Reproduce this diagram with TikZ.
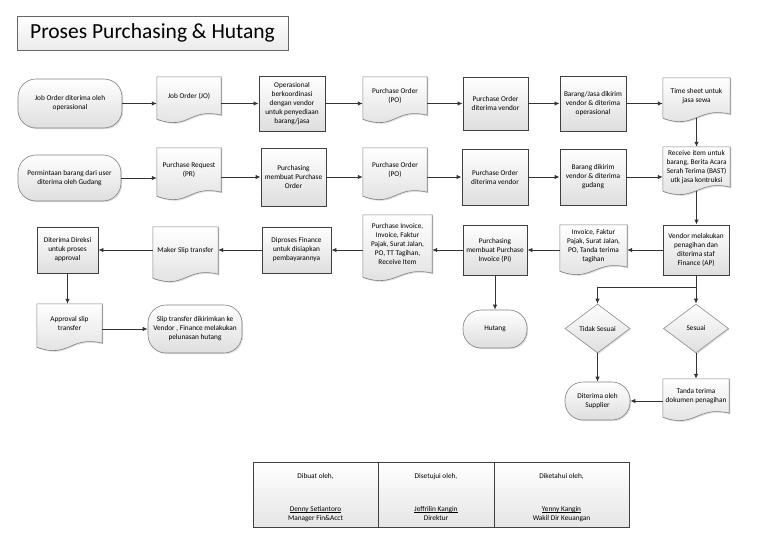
\documentclass[tikz,border=0pt]{standalone}
\usepackage{fontspec}
\setmainfont{Carlito}
\usetikzlibrary{arrows.meta,backgrounds,shadows,shapes.geometric}
\newcommand\garis[1]{\setbox0=\hbox{#1}\rlap{\rule[-1.6pt]{\wd0}{0.45pt}}\box0}

\begin{document}
\begin{tikzpicture}[x=1pt,y=-1pt,>={Latex[length=5pt,width=4.5pt]},
  txt/.style={align=center,inner sep=1pt,font=\fontsize{7.3}{9}\selectfont},
  shd/.style={top color=white,bottom color=black!13,drop shadow={shadow xshift=1.2pt,shadow yshift=-1.2pt,opacity=.25}},
  box/.style={txt,shd,draw=black!75,line width=.9pt},
  term/.style={txt,shd,draw=black!50,line width=.6pt,rounded corners=18pt},
  doc/.style={txt},
  docline/.style={shd,draw=black!50,line width=.6pt},
  dec/.style={txt,shd,diamond,draw=black!45,line width=.6pt,inner sep=.5pt,minimum width=65pt,minimum height=49pt},
  cell/.style={txt,draw=black!75,line width=.8pt,top color=white,bottom color=black!10,minimum height=65pt},
  link/.style={->,draw=black!80,line width=.9pt}]
\useasboundingbox (0,0) rectangle (768,543);

\node[draw=black!60,line width=.7pt,top color=white,bottom color=black!8,minimum width=271pt,minimum height=34pt,
  font=\fontsize{21.5}{26}\selectfont,drop shadow={shadow xshift=1.2pt,shadow yshift=-1.2pt,opacity=.25}] (ttl) at (152.5,33) {Proses Purchasing \& Hutang};

% baris 1
\node[term,minimum width=104pt,minimum height=49pt] (t1) at (70,103.5) {Job Order diterima oleh\\operasional};
\node[doc,minimum width=64pt,minimum height=38pt] (jo) at (189,96) {Job Order (JO)};
\node[box,minimum width=66pt,minimum height=55pt] (opr) at (292,103.5) {Operasional\\berkoordinasi\\dengan vendor\\untuk penyediaan\\barang/jasa};
\node[doc,minimum width=64pt,minimum height=38pt] (po1) at (395,96) {Purchase Order\\(PO)};
\node[box,minimum width=65pt,minimum height=53pt] (pov1) at (495.5,103.5) {Purchase Order\\diterima vendor};
\node[box,minimum width=66pt,minimum height=55pt] (brg1) at (593,103.5) {Barang/Jasa dikirim\\vendor \& diterima\\operasional};
\node[doc,minimum width=67pt,minimum height=36pt] (ts) at (696.5,96) {Time sheet untuk\\jasa sewa};

% baris 2
\node[term,minimum width=103pt,minimum height=46pt] (t2) at (69.5,178) {Permintaan barang dari user\\diterima oleh Gudang};
\node[doc,minimum width=64pt,minimum height=44pt] (pr) at (189,170) {Purchase Request\\(PR)};
\node[box,minimum width=65pt,minimum height=58pt] (pb) at (293.5,177) {Purchasing\\membuat Purchase\\Order};
\node[doc,minimum width=64pt,minimum height=44pt] (po2) at (395,170) {Purchase Order\\(PO)};
\node[box,minimum width=66pt,minimum height=56pt] (pov2) at (495,177) {Purchase Order\\diterima vendor};
\node[box,minimum width=66pt,minimum height=56pt] (brg2) at (593,177) {Barang dikirim\\vendor \& diterima\\gudang};
\node[doc,minimum width=67pt,minimum height=40pt] (rcv) at (696.5,167) {Receive item untuk\\barang, Berita Acara\\Serah Terima (BAST)\\utk jasa kontruksi};

% baris 3
\node[box,minimum width=66pt,minimum height=50pt] (ven) at (696,250) {Vendor melakukan\\penagihan dan\\diterima staf\\Finance (AP)};
\node[doc,minimum width=67pt,minimum height=42pt] (inv) at (593.5,246) {Invoice, Faktur\\Pajak, Surat Jalan,\\PO, Tanda terima\\tagihan};
\node[box,minimum width=64pt,minimum height=50pt] (pib) at (495,250) {Purchasing\\membuat Purchase\\Invoice (PI)};
\node[doc,minimum width=69pt,minimum height=58pt] (pid) at (397.5,244) {Purchase Invoice,\\Invoice, Faktur\\Pajak, Surat Jalan,\\PO, TT Tagihan,\\Receive Item};
\node[box,minimum width=69pt,minimum height=46pt] (dp) at (296.5,250) {Diproses Finance\\untuk disiapkan\\pembayarannya};
\node[doc,minimum width=65pt,minimum height=47pt] (mk) at (185.5,250.5) {Maker Slip transfer};
\node[box,minimum width=61pt,minimum height=46pt] (dir) at (67.5,250) {Diterima Direksi\\untuk proses\\approval};

% bawah
\node[doc,minimum width=65pt,minimum height=39pt] (app) at (69.5,323.5) {Approval slip\\transfer};
\node[term,minimum width=94pt,minimum height=48pt] (slip) at (195,329) {Slip transfer dikirimkan ke\\Vendor , Finance melakukan\\pelunasan hutang};
\node[term,minimum width=64pt,minimum height=38pt] (hut) at (495,329) {Hutang};
\node[dec] (tdk) at (597.5,328.5) {Tidak Sesuai};
\node[dec] (ss) at (696,328.5) {Sesuai};
\node[term,minimum width=65pt,minimum height=38pt] (sup) at (597.5,401) {Diterima oleh\\Supplier};
\node[doc,minimum width=66pt,minimum height=34pt] (tt) at (696,396) {Tanda terima\\dokumen penagihan};
\coordinate (sp) at (696,287);

\begin{scope}[on background layer]
\foreach \d in {jo,po1,ts,pr,po2,rcv,inv,pid,mk,app,tt}
  \draw[docline] (\d.north west) -- (\d.north east) -- (\d.south east)
    .. controls +(-32,-8) and +(32,12) .. ([yshift=-4pt]\d.south west) -- cycle;
\end{scope}

\draw[link] (t1) -- (t1 -| jo.west);
\draw[link] (jo.east |- opr) -- (opr);
\draw[link] (opr) -- (opr -| po1.west);
\draw[link] (po1.east |- pov1) -- (pov1);
\draw[link] (pov1) -- (brg1);
\draw[link] (brg1) -- (brg1 -| ts.west);
\draw[link] ([yshift=-3.5pt]ts.south) -- (ts.south |- rcv.north);

\draw[link] (t2) -- (t2 -| pr.west);
\draw[link] (pr.east |- pb) -- (pb);
\draw[link] (pb) -- (pb -| po2.west);
\draw[link] (po2.east |- pov2) -- (pov2);
\draw[link] (pov2) -- (brg2);
\draw[link] (brg2) -- (brg2 -| rcv.west);
\draw[link] ([yshift=-3.5pt]rcv.south) -- (rcv.south |- ven.north);

\draw[link] (ven) -- (ven -| inv.east);
\draw[link] (inv.west |- pib) -- (pib);
\draw[link] (pib) -- (pib -| pid.east);
\draw[link] (pid.west |- dp) -- (dp);
\draw[link] (dp) -- (dp -| mk.east);
\draw[link] (mk.west |- dir) -- (dir);
\draw[link] (dir) -- (dir |- app.north);
\draw[link] (app.east |- slip) -- (slip);
\draw[link] (pib) -- (hut);

\draw[link,-] (ven) -- (sp);
\draw[link] (sp) -- (ss);
\draw[link] (sp) -| (tdk);
\draw[link] (tdk) -- (sup);
\draw[link] (ss) -- (ss |- tt.north);
\draw[link] (tt.west |- sup) -- (sup);

% tanda tangan
\node[cell,minimum width=125pt] (sg1) at (315.5,494.5) {\rule{0pt}{12pt}Dibuat oleh,\\[24pt]\garis{Denny Setiantoro}\\Manager Fin\&Acct\rule[-2.5pt]{0pt}{2.5pt}};
\node[cell,minimum width=116pt] (sg2) at (436,494.5) {\rule{0pt}{12pt}Disetujui oleh,\\[24pt]\garis{Jeffrilin Kangin}\\Direktur\rule[-2.5pt]{0pt}{2.5pt}};
\node[cell,minimum width=135pt] (sg3) at (561.5,494.5) {\rule{0pt}{12pt}Diketahui oleh,\\[24pt]\garis{Yenny Kangin}\\Wakil Dir Keuangan\rule[-2.5pt]{0pt}{2.5pt}};
\end{tikzpicture}
\end{document}
